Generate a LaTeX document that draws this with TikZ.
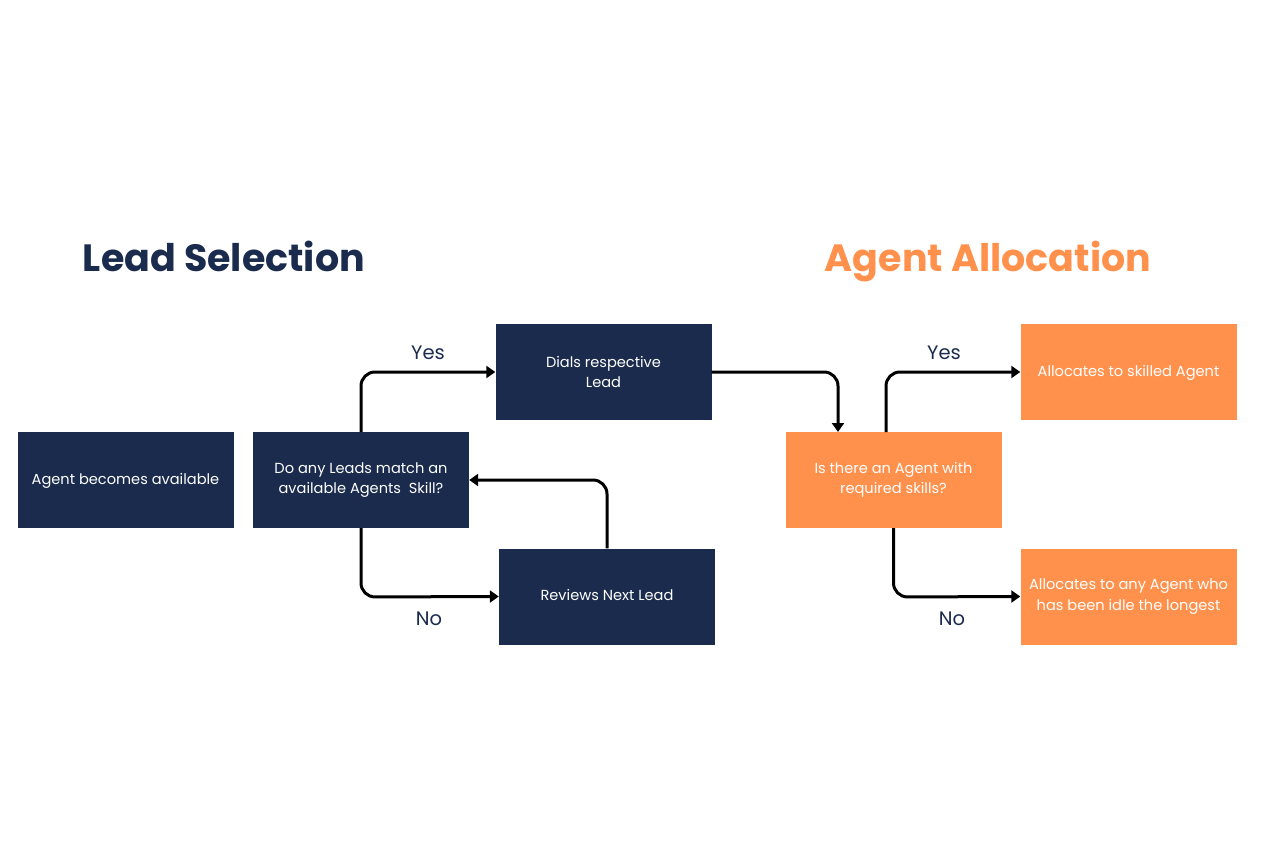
\documentclass[tikz,border=0pt]{standalone}
\usepackage{fontspec}
\setmainfont{Poppins}
\usetikzlibrary{arrows.meta}
\definecolor{navy}{HTML}{1A2B4D}
\definecolor{orng}{HTML}{FF914D}
\begin{document}
\begin{tikzpicture}[x=1pt,y=-1pt,
  box/.style={minimum width=216pt,minimum height=96pt,inner sep=0pt,text=white,align=center,
    font=\fontsize{14.6}{20.5}\selectfont},
  navybox/.style={box,fill=navy},
  orngbox/.style={box,fill=orng},
  conn/.style={line width=3pt,rounded corners=14pt,-{Triangle[width=12pt,length=9pt]}},
  lbl/.style={text=navy,font=\fontsize{19.5}{22}\selectfont},
  title/.style={anchor=base,font=\fontsize{38}{44}\bfseries\selectfont}]
\useasboundingbox (0,0) rectangle (1280,853);
\node[title,text=navy] (t1) at (224,271) {Lead Selection};
\node[title,text=orng] (t2) at (988,271) {Agent Allocation};

\node[navybox] (a) at (125.5,480) {\strut Agent becomes available};
\node[navybox] (b) at (361,480) {Do any Leads match an\\available Agents\ \ Skill?};
\node[navybox] (c) at (603.5,372) {Dials respective\\Lead};
\node[navybox] (d) at (607,596.5) {\strut Reviews Next Lead};
\node[orngbox] (e) at (893.5,480) {Is there an Agent with\\required skills?};
\node[orngbox] (f) at (1128.5,372) {\strut Allocates to skilled Agent};
\node[orngbox] (g) at (1128.5,596.5) {Allocates to any Agent who\\has been idle the longest};

\draw[conn] (b.north) -- (361,372) -- (c.west);
\draw[conn] (b.south) -- (361,597) -- (d.west);
\draw[conn] (d.north) -- (607,480) -- (b.east);
\draw[conn] (c.east) -- (838,372) -- (838,432);
\draw[conn] (886,432) -- (886,372) -- (f.west);
\draw[conn] (e.south) -- (893.5,597) -- (g.west);

\node[lbl] (y1) at (428,353) {Yes};
\node[lbl] (n1) at (429,619) {No};
\node[lbl] (y2) at (944,353) {Yes};
\node[lbl] (n2) at (952,619) {No};
\end{tikzpicture}
\end{document}
